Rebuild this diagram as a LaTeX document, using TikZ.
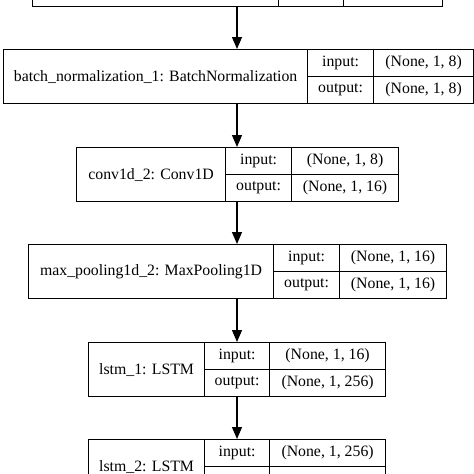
\documentclass[tikz,border=0pt]{standalone}
\usepackage{fontspec}
\setmainfont{Liberation Serif}
\usetikzlibrary{arrows.meta}
\tikzset{
  cell/.style={draw=black, line width=1.2pt, inner sep=0pt, anchor=north west,
    font=\fontsize{15.8}{18}\selectfont, text=black},
  link/.style={draw=black, line width=1.2pt, -{Triangle[width=10pt,length=12pt]}}
}
% #1 id, #2 x0, #3 xa, #4 xb, #5 x1, #6 ytop, #7 name, #8 in, #9 out
\newcommand{\kerasLayer}[9]{%
  \node[cell, minimum width={(#5-#2)*1pt}, minimum height=54pt] (#1) at (#2,#6) {};
  \node[cell, minimum width={(#3-#2)*1pt}, minimum height=54pt] (#1-n) at (#2,#6) {#7};
  \node[cell, minimum width={(#4-#3)*1pt}, minimum height=27pt] (#1-il) at (#3,#6) {#8};
  \node[cell, minimum width={(#5-#4)*1pt}, minimum height=27pt] (#1-iv) at (#4,#6) {#9};
}
% #1 id, #2 value, #3 xa, #4 xb, #5 x1, #6 ytop
\newcommand{\kerasOut}[6]{%
  \node[cell, minimum width={(#4-#3)*1pt}, minimum height=27pt] (#1-ol) at (#3,#6+27) {output:};
  \node[cell, minimum width={(#5-#4)*1pt}, minimum height=27pt] (#1-ov) at (#4,#6+27) {#2};
}
\begin{document}
\begin{tikzpicture}[x=1pt, y=-1pt]
\useasboundingbox (0,0) rectangle (474,474);
\clip (0,0) rectangle (474,474);
\fill[white] (0,0) rectangle (474,474);
% top (cut off) layer
\node[cell, minimum width=410pt, minimum height=54pt] (b1) at (32,-48) {};
\node[cell, minimum width=246pt, minimum height=54pt] (b1-n) at (32,-48) {};
\node[cell, minimum width=65pt, minimum height=27pt] (b1-ol) at (278,-21) {};
\node[cell, minimum width=99pt, minimum height=27pt] (b1-ov) at (343,-21) {};
% layers
\kerasLayer{b2}{3}{307}{373}{473}{49}{batch\_normalization\_1: BatchNormalization}{input:}{(None, 1, 8)}
\kerasOut{b2}{(None, 1, 8)}{307}{373}{473}{49}
\kerasLayer{b3}{76}{225}{291}{398}{147}{conv1d\_2: Conv1D}{input:}{(None, 1, 8)}
\kerasOut{b3}{(None, 1, 16)}{225}{291}{398}{147}
\kerasLayer{b4}{28}{273}{339}{446}{244}{max\_pooling1d\_2: MaxPooling1D}{input:}{(None, 1, 16)}
\kerasOut{b4}{(None, 1, 16)}{273}{339}{446}{244}
\kerasLayer{b5}{88}{204}{269}{385}{342}{lstm\_1: LSTM}{input:}{(None, 1, 16)}
\kerasOut{b5}{(None, 1, 256)}{204}{269}{385}{342}
\kerasLayer{b6}{88}{204}{269}{385}{439}{lstm\_2: LSTM}{input:}{(None, 1, 256)}
\node[cell, minimum width=65pt, minimum height=27pt] (b6-ol) at (204,466) {};
\node[cell, minimum width=116pt, minimum height=27pt] (b6-ov) at (269,466) {};
% connectors
\draw[link] (237,0 |- b1.south) -- (237,0 |- b2.north);
\draw[link] (237,0 |- b2.south) -- (237,0 |- b3.north);
\draw[link] (237,0 |- b3.south) -- (237,0 |- b4.north);
\draw[link] (237,0 |- b4.south) -- (237,0 |- b5.north);
\draw[link] (237,0 |- b5.south) -- (237,0 |- b6.north);
\end{tikzpicture}
\end{document}
